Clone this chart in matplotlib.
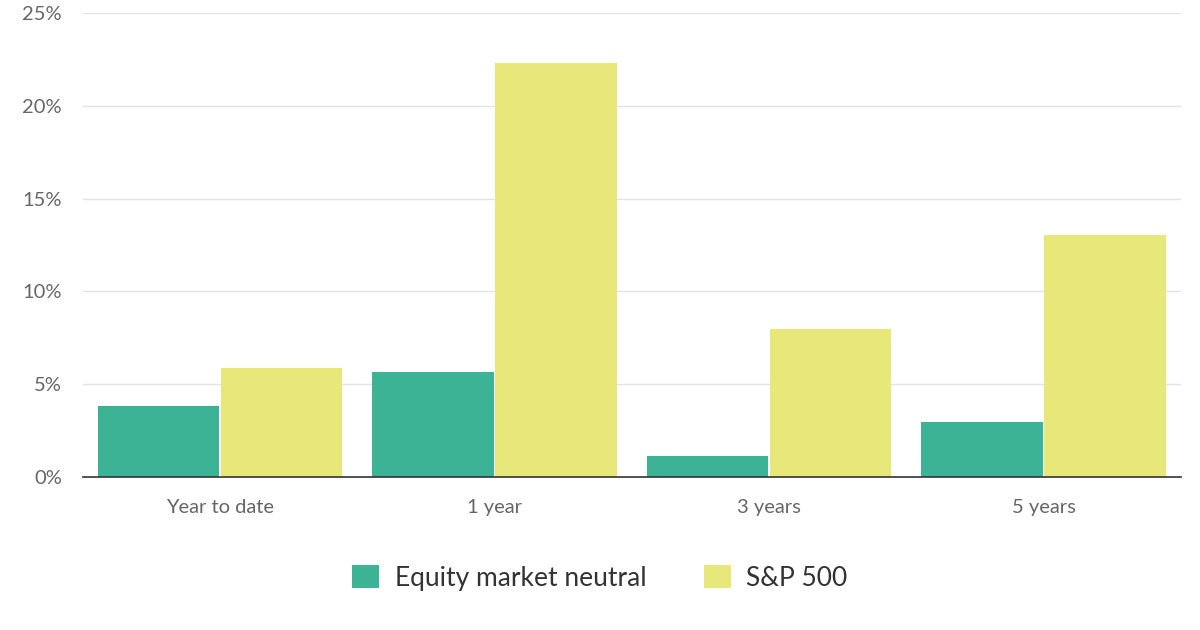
import matplotlib
matplotlib.use("Agg")
import matplotlib.pyplot as plt
import numpy as np
from matplotlib.ticker import FuncFormatter

plt.rcParams['font.family'] = ['Lato', 'DejaVu Sans']

categories = ["Year to date", "1 year", "3 years", "5 years"]
equity = [3.83, 5.66, 1.13, 2.96]
sp500 = [5.87, 22.3, 7.97, 13.04]
series_names = ["Equity market neutral", "S&P 500"]
colors = ["#3bb394", "#e8e77a"]

fig = plt.figure(figsize=(12, 6.3), dpi=100)
ax = fig.add_axes([0.069, 0.243, 0.915, 0.736])
x = np.arange(len(categories))
w = 0.442
ax.bar(x - w/2 - 0.003, equity, w, color=colors[0], label=series_names[0])
ax.bar(x + w/2 + 0.003, sp500, w, color=colors[1], label=series_names[1])
ax.set_xlim(-0.5, 3.5)
ax.set_ylim(0, 25)
ax.set_yticks([0, 5, 10, 15, 20, 25])
ax.yaxis.set_major_formatter(FuncFormatter(lambda v, p: f"{v:.0f}%"))
ax.set_xticks(x)
ax.set_xticklabels(categories)
ax.tick_params(axis='both', length=0, labelsize=14.5, labelcolor="#666666")
ax.tick_params(axis='x', pad=16)
ax.tick_params(axis='y', pad=15)
ax.grid(axis='y', color="#e3e3e3", linewidth=1)
ax.set_axisbelow(True)
for s in ["top", "right", "left"]:
    ax.spines[s].set_visible(False)
ax.spines["bottom"].set_color("#333333")
ax.spines["bottom"].set_linewidth(1.2)
fig.legend(loc="center", bbox_to_anchor=(0.5, 0.083), ncol=2, frameon=False,
           fontsize=19, handlelength=1.0, handleheight=1.0, columnspacing=2.2,
           handletextpad=0.6, labelcolor="#333333")
fig.savefig("out.png", dpi=100)
